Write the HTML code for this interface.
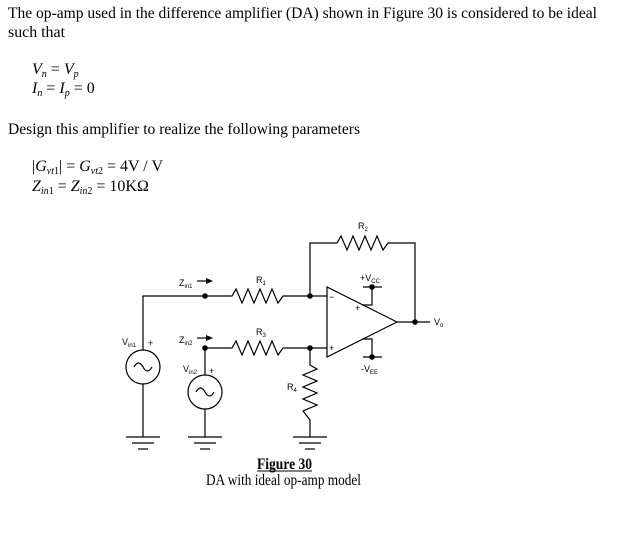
<!DOCTYPE html>
<html><head><meta charset="utf-8"><style>
html,body{margin:0;padding:0;background:#fff;}
svg{display:block;}
.t{font-family:"Liberation Serif",serif;font-size:16px;fill:#000;}
.s{font-family:"Liberation Sans",sans-serif;font-size:9px;fill:#000;}
.ss{font-family:"Liberation Sans",sans-serif;font-size:6px;}
</style></head><body>
<svg width="623" height="543" viewBox="0 0 623 543" xmlns="http://www.w3.org/2000/svg">
<text class="t" x="8" y="18" textLength="589" lengthAdjust="spacingAndGlyphs">The op-amp used in the difference amplifier (DA) shown in Figure 30 is considered to be ideal</text>
<text class="t" x="8" y="37" textLength="57" lengthAdjust="spacingAndGlyphs">such that</text>
<text class="t" x="32" y="74" font-size="14"><tspan font-style="italic">V</tspan><tspan font-style="italic" font-size="10" dy="3">n</tspan><tspan dy="-3"> = </tspan><tspan font-style="italic">V</tspan><tspan font-style="italic" font-size="10" dy="3">p</tspan></text>
<text class="t" x="32" y="93" font-size="14"><tspan font-style="italic">I</tspan><tspan font-style="italic" font-size="10" dy="3">n</tspan><tspan dy="-3"> = </tspan><tspan font-style="italic">I</tspan><tspan font-style="italic" font-size="10" dy="3">p</tspan><tspan dy="-3"> = 0</tspan></text>
<text class="t" x="8" y="134" textLength="352" lengthAdjust="spacingAndGlyphs">Design this amplifier to realize the following parameters</text>
<text class="t" x="32" y="171" font-size="14">|<tspan font-style="italic">G</tspan><tspan font-style="italic" font-size="10" dy="3">vt</tspan><tspan font-size="10">1</tspan><tspan dy="-3">| = </tspan><tspan font-style="italic">G</tspan><tspan font-style="italic" font-size="10" dy="3">vt</tspan><tspan font-size="10">2</tspan><tspan dy="-3"> = 4V / V</tspan></text>
<text class="t" x="32" y="191" font-size="14"><tspan font-style="italic">Z</tspan><tspan font-style="italic" font-size="10" dy="3">in</tspan><tspan font-size="10">1</tspan><tspan dy="-3"> = </tspan><tspan font-style="italic">Z</tspan><tspan font-style="italic" font-size="10" dy="3">in</tspan><tspan font-size="10">2</tspan><tspan dy="-3"> = 10KΩ</tspan></text>

<g stroke="#000" stroke-width="1.2" fill="none">
<polyline points="310,296 310,243 337,243 341,236 347,250 353,236 359,250 365,236 371,250 377,236 383,250 388,243 415,243 415,322"/>
<polyline points="143,350 143,296 232,296 236,289 242,303 248,289 254,303 260,289 266,303 272,289 278,303 283,296 327,296"/>
<polyline points="205,375 205,348 232,348 236,341 242,355 248,341 254,355 260,341 266,355 272,341 278,355 283,348 327,348"/>
<polyline points="310,348 310,365 317,369 303,375 317,381 303,387 317,393 303,399 317,405 303,411 310,420 310,437"/>
<polygon points="327,287 327,357 397,322"/>
<line x1="397" y1="322" x2="430" y2="322"/>
<polyline points="362,305 372,305 372,287"/>
<line x1="363" y1="287" x2="382" y2="287"/>
<polyline points="362,339 372,339 372,357"/>
<line x1="363" y1="357" x2="382" y2="357"/>
<circle cx="143" cy="367" r="17"/>
<line x1="143" y1="384" x2="143" y2="437"/>
<circle cx="205" cy="392" r="17"/>
<line x1="205" y1="409" x2="205" y2="437"/>
<path d="M134,367 q4.5,-8 9,0 t9,0"/>
<path d="M196,392 q4.5,-8 9,0 t9,0"/>
<g>
<line x1="126" y1="437" x2="160" y2="437"/><line x1="132" y1="443" x2="154" y2="443"/><line x1="138" y1="449" x2="148" y2="449"/>
<line x1="188" y1="437" x2="222" y2="437"/><line x1="194" y1="443" x2="216" y2="443"/><line x1="200" y1="449" x2="210" y2="449"/>
<line x1="293" y1="437" x2="327" y2="437"/><line x1="299" y1="443" x2="321" y2="443"/><line x1="305" y1="449" x2="315" y2="449"/>
</g>
<line x1="197" y1="281" x2="208" y2="281"/>
<line x1="197" y1="338" x2="208" y2="338"/>
</g>
<g fill="#000">
<polygon points="213,281 206,278 206,284"/>
<polygon points="213,338 206,335 206,341"/>
<circle cx="205" cy="296" r="2.8"/><circle cx="310" cy="296" r="2.8"/>
<circle cx="205" cy="348" r="2.8"/><circle cx="310" cy="348" r="2.8"/>
<circle cx="415" cy="322" r="2.8"/><circle cx="372" cy="287" r="2.8"/><circle cx="372" cy="357" r="2.8"/>
</g>
<text class="s" x="179" y="286">Z<tspan class="ss" dy="2">in1</tspan></text>
<text class="s" x="179" y="343">Z<tspan class="ss" dy="2">in2</tspan></text>
<text class="s" x="256" y="283">R<tspan class="ss" dy="2">1</tspan></text>
<text class="s" x="256" y="335">R<tspan class="ss" dy="2">3</tspan></text>
<text class="s" x="358" y="229">R<tspan class="ss" dy="2">2</tspan></text>
<text class="s" x="287" y="390">R<tspan class="ss" dy="2">4</tspan></text>
<text class="s" x="360" y="281">+V<tspan class="ss" dy="2">CC</tspan></text>
<text class="s" x="361" y="372">-V<tspan class="ss" dy="2">EE</tspan></text>
<text class="s" x="434" y="325">V<tspan class="ss" dy="2">o</tspan></text>
<text class="s" x="122" y="345">V<tspan class="ss" dy="2">in1</tspan></text>
<text class="s" x="148" y="346" font-size="8">+</text>
<text class="s" x="183" y="372">V<tspan class="ss" dy="2">in2</tspan></text>
<text class="s" x="209" y="374" font-size="8">+</text>
<text class="s" x="329" y="300" font-size="8">−</text>
<text class="s" x="329" y="351" font-size="8">+</text>
<text class="s" x="355" y="311" font-size="7">+</text>
<text class="t" x="257" y="469" font-weight="bold" font-size="13" textLength="55" lengthAdjust="spacingAndGlyphs">Figure 30</text>
<line x1="257" y1="471" x2="312" y2="471" stroke="#000" stroke-width="1"/>
<text class="t" x="206" y="485" font-size="13" textLength="155" lengthAdjust="spacingAndGlyphs">DA with ideal op-amp model</text>
</svg>
</body></html>
